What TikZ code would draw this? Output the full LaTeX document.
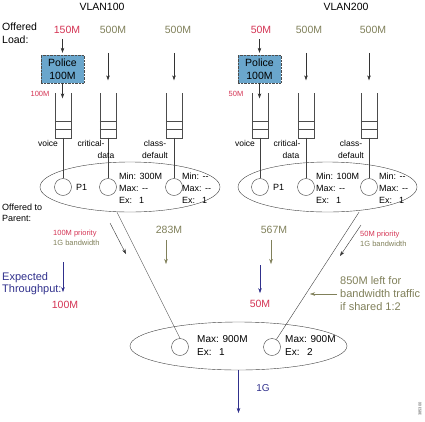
\documentclass[tikz,border=0pt]{standalone}
\usepackage{fontspec}
\setmainfont{Liberation Sans}
\usepackage{xcolor}
\usetikzlibrary{positioning,shapes.geometric,arrows.meta}

\definecolor{loadred}{RGB}{212,52,84}
\definecolor{olivetext}{RGB}{128,128,90}
\definecolor{tputblue}{RGB}{48,48,140}
\definecolor{policeblue}{RGB}{106,166,204}
\newcommand{\exval}[1]{\makebox[2.2em][l]{Ex:}#1}
\newcommand{\nolimit}{-{}-}

\begin{document}
\begin{tikzpicture}[x=1pt, y=-1pt]
	\tikzset{
		big/.style={inner sep=0pt, align=left, font=\fontsize{10.5}{13}\selectfont},
		small/.style={inner sep=0pt, align=left, font=\fontsize{9}{12}\selectfont},
		tiny/.style={inner sep=0pt, align=left, font=\fontsize{7.5}{10.5}\selectfont},
		queue/.style={minimum width=16pt, minimum height=44pt, inner sep=0pt},
		qline/.style={draw=black!70, thin},
		police/.style={rectangle, draw=black!70, densely dotted, fill=policeblue, minimum width=43pt, minimum height=28pt, align=center, font=\fontsize{10.5}{13}\selectfont},
		cls/.style={circle, draw=black!75, thin, minimum size=17pt, inner sep=0pt},
		policy/.style={ellipse, draw=black!75, thin, inner sep=0pt, minimum height=50pt},
		link/.style={draw=black!75, thin},
		flow/.style={draw=black!80, thin, -{Stealth[length=5pt,width=3.5pt]}}
	}
	\useasboundingbox (0,0) rectangle (425,421);

	% VLAN100
	\node[big] (v1) at (102,7) {VLAN100};
	\node[big, anchor=west] (offered) at (2,33.5) {Offered\\Load:};
	\node[big, loadred] (ld1) at (67,30) {150M};
	\node[big, olivetext] (ld2) at (113,30) {500M};
	\node[big, olivetext] (ld3) at (178,30) {500M};
	\node[police] (pol1) at (62.5,69) {Police\\100M};
	\node[tiny, loadred] (cut1) at (40,94) {100M};

	% VLAN200
	\node[big] (v2) at (346,7) {VLAN200};
	\node[big, loadred] (ld4) at (261,30) {50M};
	\node[big, olivetext] (ld5) at (309,30) {500M};
	\node[big, olivetext] (ld6) at (373,30) {500M};
	\node[police] (pol2) at (259.5,69) {Police\\100M};
	\node[tiny, loadred] (cut2) at (236,94) {50M};

	% queues and classes
	\node[policy, minimum width=180pt] (pa) at (130,187) {};
	\node[policy, minimum width=179pt] (pb) at (327.5,187) {};
	\foreach \q/\c/\x in {a1/c1/63, a2/c2/108, a3/c3/174, b1/d1/260, b2/d2/306, b3/d3/369} {
		\node[queue] (\q) at (\x,115.5) {};
		\draw[qline] (\q.north west) |- (\q.south east) -- (\q.north east);
		\draw[qline] ([yshift=9pt]\q.south west) -- ([yshift=9pt]\q.south east);
		\draw[qline] ([yshift=17pt]\q.south west) -- ([yshift=17pt]\q.south east);
		\node[cls] (\c) at (\x,187) {};
		\draw[link] (\q.south) -- (\c.north);
	}

	\draw[flow, shorten <=5pt, shorten >=2pt] (pol1.north |- ld1.south) -- (pol1.north);
	\draw[flow, shorten <=5pt, shorten >=2pt] (pol2.north |- ld4.south) -- (pol2.north);
	\draw[flow, shorten >=-5pt] (pol1.south) -- (pol1.south |- a1.north);
	\draw[flow, shorten >=-5pt] (pol2.south) -- (pol2.south |- b1.north);
	\foreach \l/\q in {ld2/a2, ld3/a3, ld5/b2, ld6/b3}
		\draw[flow, shorten <=19pt, shorten >=13pt] (\l.south -| \q.north) -- (\q.north);

	\node[small, font=\fontsize{8.5}{12}\selectfont] at (48,143) {voice};
	\node[small, font=\fontsize{8.5}{12}\selectfont] at (91,143) {critical-};
	\node[small, font=\fontsize{8.5}{12}\selectfont] at (106,155) {data};
	\node[small, align=center, font=\fontsize{8.5}{12}\selectfont] at (155,149) {class-\\default};
	\node[small, font=\fontsize{8.5}{12}\selectfont] at (245,143) {voice};
	\node[small, font=\fontsize{8.5}{12}\selectfont] at (287,143) {critical-};
	\node[small, font=\fontsize{8.5}{12}\selectfont] at (291,155) {data};
	\node[small, align=center, font=\fontsize{8.5}{12}\selectfont] at (351,149) {class-\\default};

	\node[small, anchor=west] at (76,187) {P1};
	\node[small, anchor=west] at (119,188) {Min: 300M\\Max: \nolimit\\\exval{1}};
	\node[small, anchor=west] at (182,188) {Min: \nolimit\\Max: \nolimit\\\exval{1}};
	\node[small, anchor=west] at (273,187) {P1};
	\node[small, anchor=west] at (316,188) {Min: 100M\\Max: \nolimit\\\exval{1}};
	\node[small, anchor=west] at (379,188) {Min: \nolimit\\Max: \nolimit\\\exval{1}};

	% offered to parent
	\node[small, anchor=west, font=\fontsize{9}{11}\selectfont] at (2,212.5) {Offered to\\Parent:};
	\node[tiny, anchor=west] (pr1) at (53,238) {\textcolor{loadred}{100M priority}\\\textcolor{olivetext}{1G bandwidth}};
	\node[tiny, anchor=west] (pr2) at (360,239) {\textcolor{loadred}{50M priority}\\\textcolor{olivetext}{1G bandwidth}};
	\coordinate (s1) at (110,223);
	\coordinate (t1) at (126,254);
	\coordinate (s2) at (361,225);
	\coordinate (t2) at (340,256);
	\draw[flow] (s1) -- (t1);
	\draw[flow] (s2) -- (t2);

	\node[big, olivetext] (o1) at (169,230) {283M};
	\node[big, olivetext] (o2) at (274,230) {567M};
	\coordinate (o1end) at (166,264);
	\coordinate (o2end) at (271,264);
	\draw[flow, draw=olivetext, shorten <=6pt] (o1.south -| o1end) -- (o1end);
	\draw[flow, draw=olivetext, shorten <=6pt] (o2.south -| o2end) -- (o2end);

	% expected throughput
	\node[big, anchor=west, tputblue, font=\fontsize{11}{12}\selectfont] (exp) at (2,284) {Expected\\Throughput:};
	\node[big, loadred] (res1) at (65,305) {100M};
	\node[big, loadred] (res2) at (260,304) {50M};
	\coordinate (e1top) at (63,262);
	\coordinate (e2top) at (260,265);
	\draw[flow, draw=tputblue, shorten >=9pt] (e1top) -- (e1top |- res1.north);
	\draw[flow, draw=tputblue, shorten >=7pt] (e2top) -- (e2top |- res2.north);

	\node[big, anchor=west, olivetext, font=\fontsize{11}{13}\selectfont] (left) at (340,294) {850M left for\\bandwidth traffic\\if shared 1:2};
	\coordinate (lefttip) at (310,294);
	\draw[flow, draw=olivetext, shorten <=3pt] (left.west) -- (lefttip);

	% parent policy
	\node[policy, minimum width=217pt, minimum height=48pt] (root) at (238.5,346) {};
	\node[cls] (r1) at (180,347) {};
	\node[cls] (r2) at (272,347) {};
	\node[small, anchor=west, font=\fontsize{10}{13}\selectfont] at (197,345.5) {Max: 900M\\\exval{1}};
	\node[small, anchor=west, font=\fontsize{10}{13}\selectfont] at (285,345.5) {Max: 900M\\\exval{2}};
	\draw[link] ([xshift=-13pt]pa.south) -- (r1.north);
	\draw[link] ([xshift=31.5pt]pb.south) -- (r2.60);

	\node[big, tputblue, font=\fontsize{10}{12}\selectfont] (out) at (263,388) {1G};
	\coordinate (sink) at (238.5,413);
	\draw[flow, draw=tputblue] (root.south) -- (sink);
	\node[inner sep=0pt, rotate=90, black!70, font=\fontsize{4}{4}\selectfont] at (420,409) {385300};
\end{tikzpicture}
\end{document}
